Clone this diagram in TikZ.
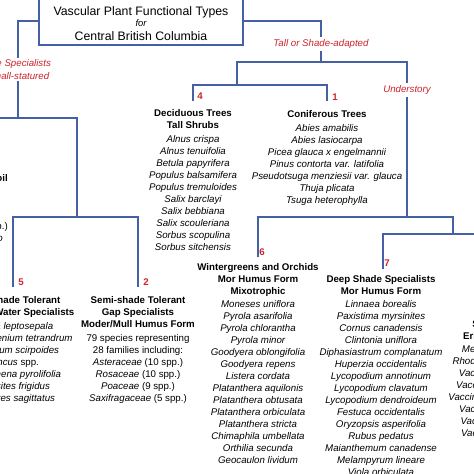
\documentclass[tikz,border=0pt]{standalone}
\usepackage{fontspec}
\setmainfont{Liberation Sans}
\definecolor{linkblue}{RGB}{70,96,166}
\definecolor{tagred}{RGB}{205,35,45}
\newcommand{\grp}[1]{{\upshape\bfseries #1}}
\tikzset{
  link/.style={draw=linkblue,line width=1.3pt},
  branch/.style={fill=white,inner sep=2pt,text=tagred,align=center,
    font=\fontsize{9.7}{12.5}\selectfont\itshape},
  tag/.style={text=tagred,inner sep=0pt,font=\fontsize{9.7}{11}\selectfont\bfseries},
  pft/.style={anchor=north,inner sep=0pt,align=center,
    font=\fontsize{9.7}{12}\selectfont\itshape}
}

\begin{document}
\begin{tikzpicture}[x=1pt,y=-1pt]
  %%%%% START %%%%%
  \useasboundingbox (0,0) rectangle (474,474);
  \clip (0,0) rectangle (474,474);

  % title box
  \node[link,minimum width=204pt,minimum height=48pt,inner sep=0pt] (title) at (141,21) {};
  \node[font=\fontsize{12.3}{14}\selectfont,anchor=base] (ttop) at (141,15.4) {Vascular Plant Functional Types};
  \node[font=\fontsize{9.4}{11}\selectfont\itshape,anchor=base] (tfor) at (141,26.4) {for};
  \node[font=\fontsize{12.3}{14}\selectfont,anchor=base] (tbot) at (141,40.4) {Central British Columbia};

  % junctions and line ends
  \coordinate (tL) at (39,21);
  \coordinate (tR) at (243,21);
  \coordinate (jL) at (18,118);
  \coordinate (offL) at (-20,118);
  \coordinate (jM) at (77,217);
  \coordinate (jR) at (321,62);
  \coordinate (jT) at (237,85);
  \coordinate (jU) at (407,217);
  \coordinate (jS) at (453,234);
  \coordinate (offR) at (490,234);
  \coordinate (e4) at (193,101);
  \coordinate (e1) at (327,101);
  \coordinate (e5) at (13,287);
  \coordinate (e2) at (138,287);
  \coordinate (e6) at (258,257);
  \coordinate (e7) at (383,269);

  % tree
  \draw[link] (tL) -| (jL);
  \draw[link] (offL) -| (jM);
  \draw[link] (e5) |- (jM) -| (e2);
  \draw[link] (tR) -| (jR);
  \draw[link] (jT) |- (jR) -| (jU);
  \draw[link] (e4) |- (jT) -| (e1);
  \draw[link] (e6) |- (jU) -| (jS);
  \draw[link] (e7) |- (jS) -- (offR);

  % branch labels
  \node[branch] (bL) at (18,69.5) {Site Specialists\\ Small-statured};
  \node[branch] (bR) at (321,44) {Tall or Shade-adapted};
  \node[branch] (bU) at (407,90) {Understory};

  % type numbers
  \node[tag] (n4) at (200,96) {4};
  \node[tag] (n1) at (335,97) {1};
  \node[tag] (n5) at (21,282) {5};
  \node[tag] (n2) at (146,282) {2};
  \node[tag] (n6) at (262,252) {6};
  \node[tag] (n7) at (387,263) {7};

  % functional types
  \node[pft,anchor=north east,align=right,font=\fontsize{9.7}{12}\selectfont] (g3) at (8,174.4)
    {\grp{Soil}\\ \mbox{}\\ \mbox{}\\ \mbox{}\\ (5 spp.)\hspace*{5pt}\\ \textit{Senecio}\hspace*{5pt}};
  \node[pft] (g4) at (193,109.3) {\grp{Deciduous Trees}\\ \grp{Tall Shrubs}\\[2pt]
    Alnus crispa\\ Alnus tenuifolia\\ Betula papyrifera\\ Populus balsamifera\\
    Populus tremuloides\\ Salix barclayi\\ Salix bebbiana\\ Salix scouleriana\\
    Sorbus scopulina\\ Sorbus sitchensis};
  \node[pft] (g1) at (327,110.3) {\grp{Coniferous Trees}\\[2pt]
    Abies amabilis\\ Abies lasiocarpa\\ Picea glauca x engelmannii\\
    Pinus contorta var. latifolia\\ Pseudotsuga menziesii var. glauca\\
    Thuja plicata\\ Tsuga heterophylla};
  \node[pft] (g5) at (13,296.3) {\grp{Semi-shade Tolerant}\\ \grp{Seepage Water Specialists}\\[2pt]
    Caltha leptosepala\\ Chrysosplenium tetrandrum\\ Equisetum scirpoides\\
    Juncus {\upshape spp.}\\ Leptarrhena pyrolifolia\\ Petasites frigidus\\ Petasites sagittatus};
  \node[pft,font=\fontsize{9.7}{12}\selectfont] (g2) at (138,296.3) {\grp{Semi-shade Tolerant}\\
    \grp{Gap Specialists}\\ \grp{Moder/Mull Humus Form}\\[2pt]
    79 species representing\\ 28 families including:\\ \textit{Asteraceae} (10 spp.)\\
    \textit{Rosaceae} (10 spp.)\\ \textit{Poaceae} (9 spp.)\\ \textit{Saxifragaceae} (5 spp.)};
  \node[pft] (g6) at (258,263) {\grp{Wintergreens and Orchids}\\ \grp{Mor Humus Form}\\
    \grp{Mixotrophic}\\[1pt]
    Moneses uniflora\\ Pyrola asarifolia\\ Pyrola chlorantha\\ Pyrola minor\\
    Goodyera oblongifolia\\ Goodyera repens\\ Listera cordata\\ Platanthera aquilonis\\
    Platanthera obtusata\\ Platanthera orbiculata\\ Platanthera stricta\\
    Chimaphila umbellata\\ Orthilia secunda\\ Geocaulon lividum};
  \node[pft] (g7) at (381,275.5) {\grp{Deep Shade Specialists}\\ \grp{Mor Humus Form}\\[1pt]
    Linnaea borealis\\ Paxistima myrsinites\\ Cornus canadensis\\ Clintonia uniflora\\
    Diphasiastrum complanatum\\ Huperzia occidentalis\\ Lycopodium annotinum\\
    Lycopodium clavatum\\ Lycopodium dendroideum\\ Festuca occidentalis\\
    Oryzopsis asperifolia\\ Rubus pedatus\\ Maianthemum canadense\\
    Melampyrum lineare\\ Viola orbiculata};
  \node[pft] (g8) at (507,320.4) {\grp{Shade Tolerant}\\ \grp{Ericaceous Shrubs}\\[1pt]
    Menziesia ferruginea\\ Rhododendron albiflorum\\ Vaccinium alaskaense\\
    Vaccinium caespitosum\\ Vaccinium membranaceum\\ Vaccinium myrtilloides\\
    Vaccinium ovalifolium\\ Vaccinium scoparium};

  %%%%% END %%%%%
\end{tikzpicture}
\end{document}
